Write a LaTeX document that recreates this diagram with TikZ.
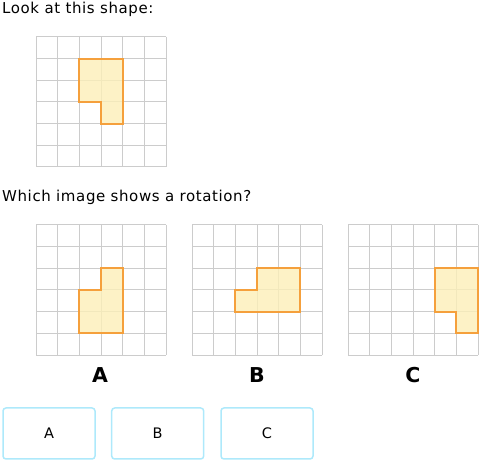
\documentclass[tikz,border=0pt]{standalone}
\usepackage{fontspec}
\setmainfont{DejaVu Sans}
\usetikzlibrary{calc}

\definecolor{gridgray}{HTML}{CCCCCC}
\definecolor{shapeorange}{HTML}{F5A03C}
\definecolor{shapefill}{HTML}{FCEFB8}
\definecolor{btnblue}{HTML}{AEE9FB}

\tikzset{
  gridline/.style={draw=gridgray, line width=1pt},
  shapeline/.style={draw=shapeorange, fill=shapefill, fill opacity=0.8, draw opacity=1, line width=2pt, line join=miter},
  qtext/.style={font=\fontsize{15}{18}\selectfont\addfontfeature{LetterSpace=4}, inner sep=0pt, anchor=base west},
  imglabel/.style={font=\fontsize{20.5}{24}\selectfont\bfseries, inner sep=0pt, anchor=base},
  choicebox/.style={draw=btnblue, line width=1.5pt, rounded corners=3pt, minimum width=92pt, minimum height=51pt, inner sep=0pt, font=\fontsize{14.5}{16}\selectfont}
}

\newcommand{\sqgrid}[2]{\begin{scope}[shift={(#1,#2)}]
    \foreach \k in {0,...,6} {
      \draw[gridline] (\k*21.667,0) -- (\k*21.667,130);
      \draw[gridline] (0,\k*21.667) -- (130,\k*21.667);
    }
  \end{scope}}
\newcommand{\cellshape}[3]{\draw[shapeline, shift={(#1,#2)}, x=21.667pt, y=-21.667pt] #3;}

\begin{document}
\begin{tikzpicture}[x=1pt, y=-1pt]
        \useasboundingbox (0,0) rectangle (480,462);

        % question
        \node[qtext] (look) at (2,13.5) {Look at this shape:};
        \sqgrid{36}{37}
        \cellshape{36}{37}{(2,1) -- (4,1) -- (4,4) -- (3,4) -- (3,3) -- (2,3) -- cycle}

        \node[qtext] (which) at (2,201.5) {Which image shows a rotation?};

        % images
        \sqgrid{36}{225}
        \sqgrid{192}{225}
        \sqgrid{348}{225}
        \cellshape{36}{225}{(3,2) -- (4,2) -- (4,5) -- (2,5) -- (2,3) -- (3,3) -- cycle}
        \cellshape{192}{225}{(3,2) -- (5,2) -- (5,4) -- (2,4) -- (2,3) -- (3,3) -- cycle}
        \cellshape{348}{225}{(4,2) -- (6,2) -- (6,5) -- (5,5) -- (5,4) -- (4,4) -- cycle}

        \node[imglabel] (labA) at (100,382.5) {A};
        \node[imglabel] (labB) at (257,382.5) {B};
        \node[imglabel] (labC) at (413,382.5) {C};

        % answer buttons
        \node[choicebox] (btnA) at (49,433.5) {A};
        \node[choicebox] (btnB) at (157.7,433.5) {B};
        \node[choicebox] (btnC) at (267,433.5) {C};
\end{tikzpicture}
\end{document}
